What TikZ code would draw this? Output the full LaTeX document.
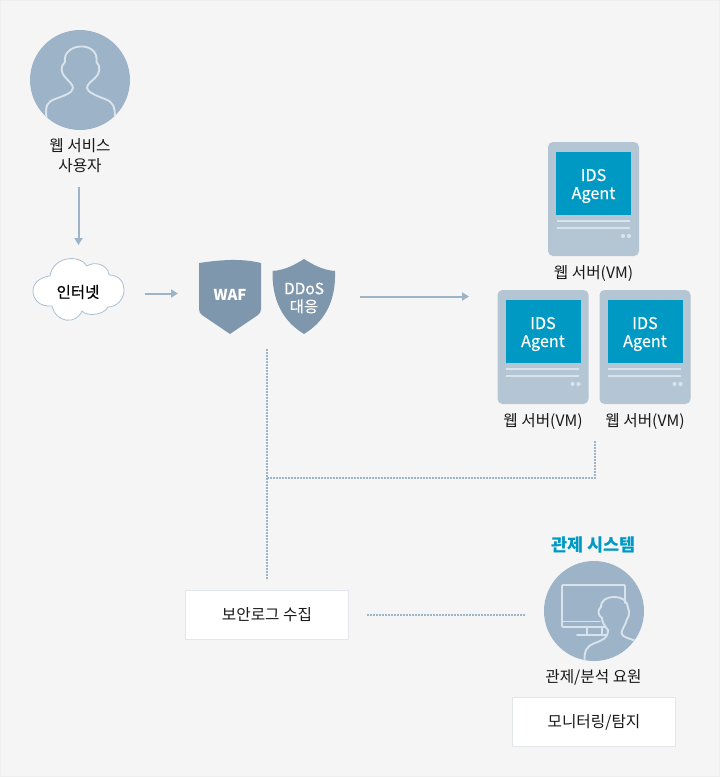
\documentclass[tikz,border=0pt]{standalone}
\usepackage{fontspec}
\setmainfont{Noto Sans CJK KR}
\newfontfamily\medfont[FakeBold=0.3]{Noto Sans CJK KR}
\newfontfamily\strongfont[FakeBold=0.7]{Noto Sans CJK KR}
\usetikzlibrary{arrows.meta}
\definecolor{bgc}{HTML}{F5F5F5}
\definecolor{edgec}{HTML}{EEEEEE}
\definecolor{circ}{HTML}{9DB4C8}
\definecolor{arr}{HTML}{9DB4C8}
\definecolor{shield}{HTML}{7F97AD}
\definecolor{srv}{HTML}{B4C5D4}
\definecolor{scr}{HTML}{0099C4}
\definecolor{lnc}{HTML}{D9E3EC}
\definecolor{boxe}{HTML}{E3E6EC}
\tikzset{
  x=1pt,y=-1pt,
  lbl/.style={font=\fontsize{15.7}{20}\selectfont,align=center,text=black!90,inner sep=0pt},
  arrowln/.style={draw=arr,line width=2pt,-{Triangle[length=7pt,width=8pt]}},
  dotln/.style={draw=arr,line width=2pt,dash pattern=on 1.6pt off 1.4pt},
  panel/.style={draw=boxe,fill=white,line width=1pt,minimum width=163pt,minimum height=49pt,inner sep=0pt,font=\fontsize{15.7}{18}\selectfont,text=black!90},
  srvbody/.style={fill=srv,rounded corners=5pt},
  scrnbox/.style={fill=scr},
  scrntext/.style={text=white,font=\medfont\fontsize{16.2}{18}\selectfont,align=center,inner sep=0pt},
  iconln/.style={draw=lnc,line width=1.9pt,line join=round,line cap=round},
}
\newcommand{\server}[4]{% #1 name, #2 left x, #3 top y, #4 label offset
  \fill[srvbody] (#2,#3) rectangle ++(91,114);
  \fill[scrnbox] (#2+8,#3+10) rectangle ++(75,62.5);
  \node[scrntext] (#1) at (#2+45.5,#3+44) {IDS\\Agent};
  \draw[draw=lnc,line width=1.7pt] (#2+8.5,#3+79) -- ++(73,0) (#2+8.5,#3+86) -- ++(73,0);
  \fill[lnc] (#2+75,#3+94) circle (2.1) (#2+81,#3+94) circle (2.1);
  \node[lbl] (#1l) at (#2+45.5,#3+#4) {웹 서버(VM)};
}
\begin{document}
\begin{tikzpicture}
\useasboundingbox (0,0) rectangle (720,777);
\fill[edgec] (0,0) rectangle (720,777);
\fill[bgc] (1,1) rectangle (719,776);

% user
\node[circle,fill=circ,minimum size=100pt,inner sep=0pt] (user) at (80,80) {};
\begin{scope}
\clip (80,80) circle (50);
\draw[iconln] (46.5,118) .. controls (45,106) and (47,102) .. (55,99)
 .. controls (63,96) and (73,93) .. (73,88)
 .. controls (73,84) and (68,81) .. (65,77)
 .. controls (61,73) and (60,66) .. (65,62)
 .. controls (64,57) and (66,53) .. (70,50)
 .. controls (75,46) and (85,45) .. (91,49)
 .. controls (96,52) and (97,57) .. (96.5,62)
 .. controls (101,66) and (100,74) .. (95,78)
 .. controls (92,81) and (87,84) .. (87,88)
 .. controls (87,92) and (97,96) .. (105,99)
 .. controls (113,102) and (115,106) .. (115,118);
\end{scope}
\node[lbl] (userl) at (80,156) {웹 서비스\\사용자};

% cloud
\path[fill=white,draw=arr!85,line width=0.8pt] (50,276)
 .. controls (53,256) and (80,254) .. (87,266)
 .. controls (94,261) and (108,264) .. (109,275)
 .. controls (120,275) and (124,283) .. (124,290)
 .. controls (124,299) and (117,307) .. (108,307)
 .. controls (104,315) and (87,317) .. (82,311)
 .. controls (76,325) and (56,323) .. (52,306)
 .. controls (38,307) and (33,298) .. (33,291)
 .. controls (33,283) and (40,277) .. (50,276) -- cycle;
\node[font=\strongfont\fontsize{15.5}{18}\selectfont,text=black,inner sep=0pt] (net) at (78,292) {인터넷};

% shields
\path[fill=shield] (199,263) .. controls (220,260) and (240,258) .. (261,263)
 -- (261,309) .. controls (261,312) and (260,313) .. (258,315)
 -- (230,334) -- (202,315) .. controls (200,313) and (199,312) .. (199,309) -- cycle;
\node[text=white,font=\bfseries\fontsize{15}{18}\selectfont,inner sep=0pt] (waf) at (230,295) {WAF};
\path[fill=shield] (272.5,271) .. controls (286,270) and (296,264) .. (304,259)
 .. controls (312,264) and (322,270) .. (335,271)
 .. controls (336,298) and (327,320) .. (304,334)
 .. controls (281,320) and (272,298) .. (272.5,271) -- cycle;
\node[text=white,font=\medfont\fontsize{15.5}{18}\selectfont,align=center,inner sep=0pt] (ddos) at (304,298) {DDoS\\대응};

% servers
\server{s1}{548}{142}{131.5}
\server{s2}{497.5}{290}{131.5}
\server{s3}{599.5}{290}{131.5}

% arrows
\coordinate (a1s) at (78.5,187); \coordinate (a1e) at (78.5,245);
\draw[arrowln] (a1s) -- (a1e);
\coordinate (a2s) at (144.5,293.5); \coordinate (a2e) at (178,293.5);
\draw[arrowln] (a2s) -- (a2e);
\coordinate (a3s) at (360,296.5); \coordinate (a3e) at (469,296.5);
\draw[arrowln] (a3s) -- (a3e);

% monitoring
\node[font=\bfseries\fontsize{17.5}{20}\selectfont,text=scr,inner sep=0pt] (sys) at (593.5,544.5) {관제 시스템};
\node[circle,fill=circ,minimum size=100pt,inner sep=0pt] (op) at (594,611) {};
\begin{scope}
\clip (594,611) circle (50);
\draw[iconln,rounded corners=1pt] (625,603) -- (625,585) -- (562,585) -- (562,627) -- (606,627);
\draw[iconln] (562,621.5) -- (600,621.5);
\draw[iconln] (587,627) -- (587,635) (602,627) -- (602,635) (577,635) -- (607,635);
\draw[iconln] (584.5,662) .. controls (584,650) and (587,646) .. (595,643)
 .. controls (603,640) and (608,638) .. (608,630)
 .. controls (605,627) and (602,622) .. (602,618)
 .. controls (597,615) and (598,609) .. (601,607)
 .. controls (601,600) and (607,597) .. (614,597)
 .. controls (623,597) and (628,602) .. (628,608)
 .. controls (630,612) and (629,617) .. (627,619)
 .. controls (626,625) and (622,628) .. (621.5,633)
 .. controls (622,637) and (628,638) .. (636,641);
\end{scope}
\node[lbl] (opl) at (593.5,677.5) {관제/분석 요원};
\node[panel] (mon) at (594,722) {\raisebox{-1.5pt}{모니터링/탐지}};
\node[panel] (log) at (267,615) {\raisebox{-1.5pt}{보안로그 수집}};

% dotted lines
\coordinate (d1) at (267,349);
\coordinate (d2) at (267,580);
\coordinate (d3) at (267,478);
\coordinate (d4) at (595,478);
\coordinate (d5) at (595,441);
\coordinate (d6) at (367,615);
\coordinate (d7) at (526,615);
\draw[dotln] (d1) -- (d2);
\draw[dotln] (d3) -- (d4) -- (d5);
\draw[dotln] (d6) -- (d7);
\end{tikzpicture}
\end{document}
